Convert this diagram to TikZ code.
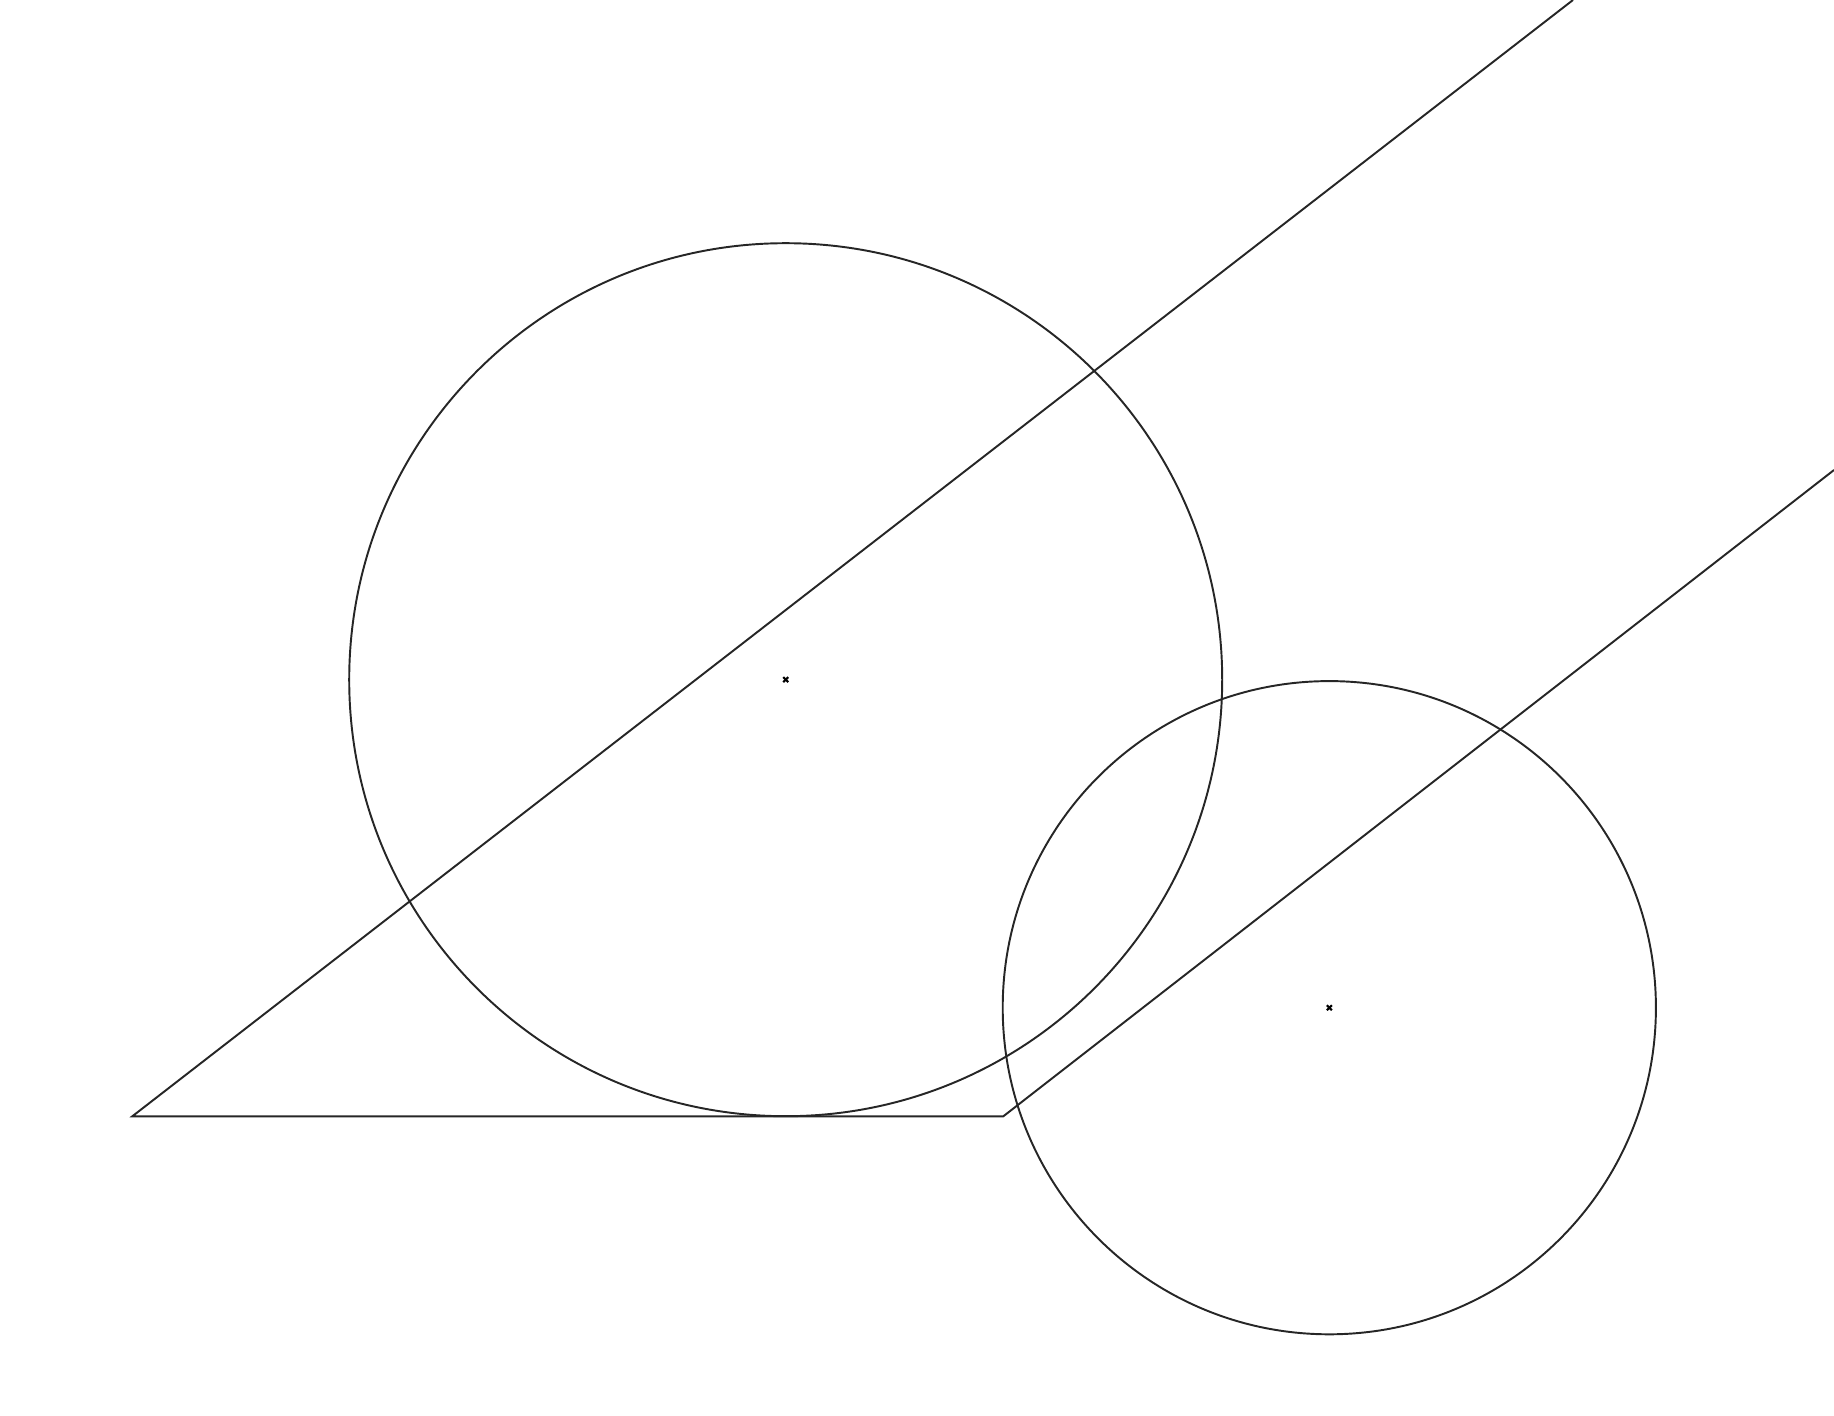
\documentclass[tikz,border=0pt]{standalone}
\begin{document}
\begin{tikzpicture}[x=0.01cm,y=-0.01cm,
  geo/.style={line width=0.55pt,draw=black!85},
  ctr/.style={line width=0.6pt,draw=black}]
\useasboundingbox (0,0) rectangle (1834,1416);
\coordinate (A) at (132.3,1116.3);
\coordinate (B) at (1003.3,1116.3);
\coordinate (T1) at (1573,0);
\coordinate (T2) at (1834,470);
\coordinate (O1) at (785.7,679.7);
\coordinate (O2) at (1329.3,1007.7);
\draw[geo] (T1) -- (A) -- (B) -- (T2);
\draw[geo] (O1) circle[radius=436.5];
\draw[geo] (O2) circle[radius=326.6];
\foreach \c in {O1,O2}{
  \draw[ctr] ([shift={(-2.5,-2.5)}]\c) -- ([shift={(2.5,2.5)}]\c);
  \draw[ctr] ([shift={(-2.5,2.5)}]\c) -- ([shift={(2.5,-2.5)}]\c);
}
\end{tikzpicture}
\end{document}
